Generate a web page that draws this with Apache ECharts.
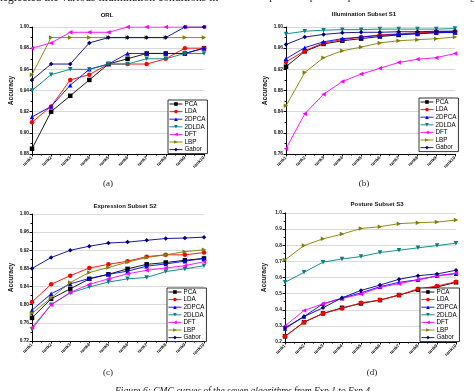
<!DOCTYPE html>
<html><head><meta charset="utf-8">
<script src="https://cdn.jsdelivr.net/npm/echarts@6/dist/echarts.min.js"></script>
<style>html,body{margin:0;padding:0;background:#fff}#c{width:474px;height:391px}</style>
</head><body><div id="c"></div>
<script>
const ranks = [1,2,3,4,5,6,7,8,9,10];
const methods = ['PCA','LDA','2DPCA','2DLDA','DFT','LBP','Gabor'];

// (a) ORL
const orlPCA   = [0.885,0.92,0.935,0.95,0.965,0.97,0.975,0.975,0.975,0.98];
const orlLDA   = [0.91,0.925,0.95,0.955,0.965,0.965,0.965,0.97,0.98,0.98];
const orl2DPCA = [0.915,0.925,0.945,0.96,0.965,0.975,0.975,0.975,0.975,0.98];
const orl2DLDA = [0.94,0.955,0.96,0.96,0.965,0.965,0.97,0.97,0.975,0.975];
const orlDFT   = [0.98,0.985,0.995,0.995,0.995,1.0,1.0,1.0,1.0,1.0];
const orlLBP   = [0.955,0.99,0.99,0.99,0.99,0.99,0.99,0.99,0.99,0.99];
const orlGabor = [0.95,0.965,0.965,0.985,0.99,0.99,0.99,0.99,1.0,1.0];

// (b) Illumination Subset S1
const s1PCA   = [0.925,0.954,0.968,0.974,0.978,0.982,0.985,0.988,0.99,0.99];
const s1LDA   = [0.934,0.955,0.97,0.976,0.981,0.985,0.987,0.989,0.991,0.992];
const s12DPCA = [0.94,0.961,0.972,0.978,0.981,0.984,0.986,0.987,0.989,0.99];
const s12DLDA = [0.987,0.992,0.994,0.995,0.995,0.996,0.996,0.996,0.996,0.997];
const s1DFT   = [0.77,0.836,0.873,0.897,0.911,0.922,0.933,0.939,0.942,0.95];
const s1LBP   = [0.851,0.914,0.942,0.955,0.962,0.97,0.974,0.976,0.978,0.981];
const s1Gabor = [0.967,0.981,0.986,0.989,0.99,0.99,0.991,0.991,0.992,0.992];

// (c) Expression Subset S2
const s2PCA   = [0.771,0.813,0.835,0.857,0.867,0.879,0.889,0.893,0.898,0.902];
const s2LDA   = [0.806,0.845,0.864,0.881,0.889,0.896,0.906,0.91,0.91,0.915];
const s22DPCA = [0.788,0.824,0.846,0.858,0.867,0.874,0.885,0.89,0.896,0.902];
const s22DLDA = [0.746,0.8,0.826,0.839,0.85,0.857,0.86,0.873,0.879,0.886];
const s2DFT   = [0.75,0.8,0.827,0.845,0.857,0.868,0.876,0.881,0.886,0.895];
const s2LBP   = [0.781,0.815,0.849,0.871,0.882,0.894,0.904,0.91,0.917,0.921];
const s2Gabor = [0.88,0.904,0.92,0.929,0.936,0.938,0.942,0.946,0.947,0.949];

// (d) Posture Subset S3
const s3PCA   = [0.235,0.323,0.377,0.412,0.439,0.46,0.491,0.524,0.541,0.57];
const s3LDA   = [0.235,0.323,0.377,0.408,0.443,0.46,0.491,0.53,0.547,0.574];
const s32DPCA = [0.283,0.358,0.437,0.472,0.505,0.543,0.57,0.586,0.611,0.624];
const s32DLDA = [0.57,0.632,0.695,0.715,0.73,0.755,0.769,0.784,0.798,0.813];
const s3DFT   = [0.3,0.395,0.437,0.47,0.497,0.539,0.562,0.586,0.609,0.628];
const s3LBP   = [0.709,0.798,0.84,0.869,0.904,0.915,0.934,0.94,0.944,0.956];
const s3Gabor = [0.287,0.358,0.412,0.474,0.52,0.553,0.589,0.611,0.622,0.645];

const panels = [
  [orlPCA,orlLDA,orl2DPCA,orl2DLDA,orlDFT,orlLBP,orlGabor],
  [s1PCA,s1LDA,s12DPCA,s12DLDA,s1DFT,s1LBP,s1Gabor],
  [s2PCA,s2LDA,s22DPCA,s22DLDA,s2DFT,s2LBP,s2Gabor],
  [s3PCA,s3LDA,s32DPCA,s32DLDA,s3DFT,s3LBP,s3Gabor]
];
const yMin = [0.88,0.76,0.72,0.2];
const yMax = [1.0,1.0,1.0,1.0];
const yStep = [0.02,0.04,0.04,0.1];
const yDec = [2,2,2,1];

const colors = ['#000000','#ff0000','#0000ff','#008080','#ff00ff','#808000','#000080'];
const symbols = ['rect','circle','triangle','path://M0,0 L10,0 L5,10 Z','path://M0,5 L10,0 L10,10 Z','path://M10,5 L0,0 L0,10 Z','diamond'];

const grids = [
  {left:32, top:27, width:172, height:127},
  {left:286, top:27, width:169, height:127},
  {left:32, top:214, width:172, height:127},
  {left:285, top:213, width:171, height:129}
];
const legendPos = [
  {left:168, top:100},
  {left:419, top:98},
  {left:167, top:288},
  {left:420, top:288}
];

const xAxes = [], yAxes = [], series = [], legends = [];
for (let p = 0; p < 4; p++) {
  xAxes.push({
    gridIndex:p, type:'value', min:1, max:10, interval:1,
    axisLine:{show:true, onZero:false, lineStyle:{color:'#000', width:1}},
    axisTick:{show:true, length:2.5, lineStyle:{color:'#000'}},
    minorTick:{show:true, splitNumber:2, length:1.5, lineStyle:{color:'#000'}},
    splitLine:{show:false},
    axisLabel:{rotate:45, fontSize:4.5, fontWeight:'bold', color:'#111', margin:3,
      fontFamily:'Liberation Sans', formatter:v=>'rank'+v}
  });
  yAxes.push({
    gridIndex:p, type:'value', min:yMin[p], max:yMax[p], interval:yStep[p],
    name:'Accuracy', nameLocation:'middle', nameGap:17, nameRotate:90,
    nameTextStyle:{fontSize:6.5, fontWeight:'bold', color:'#111', fontFamily:'Liberation Sans'},
    axisLine:{show:true, lineStyle:{color:'#000', width:1}},
    axisTick:{show:true, length:2.5, lineStyle:{color:'#000'}},
    minorTick:{show:true, splitNumber:2, length:1.5, lineStyle:{color:'#000'}},
    splitLine:{show:true, lineStyle:{color:'#d9d9d9', width:1}},
    axisLabel:{fontSize:4.8, fontWeight:'bold', color:'#111', margin:3,
      fontFamily:'Liberation Sans', formatter:v=>v.toFixed(yDec[p])}
  });
  for (let m = 0; m < 7; m++) {
    series.push({
      type:'line', name:methods[m], xAxisIndex:p, yAxisIndex:p,
      data: ranks.map((r,i)=>[r, panels[p][m][i]]),
      symbol:symbols[m], symbolSize:4.5, showAllSymbol:true,
      lineStyle:{color:colors[m], width:0.9},
      itemStyle:{color:colors[m]},
      emphasis:{disabled:true}, animation:false, z:3+m
    });
  }
  legends.push({
    left:legendPos[p].left, top:legendPos[p].top, orient:'vertical',
    data:methods, itemWidth:13, itemHeight:4.5, itemGap:1.6,
    lineStyle:{width:0.9}, itemStyle:{borderWidth:0},
    padding:[1,2,1,1], borderColor:'#000', borderWidth:0.8, backgroundColor:'#fff',
    textStyle:{fontSize:6.3, color:'#000', fontFamily:'Liberation Sans', lineHeight:5.5, padding:[0,0,0,-3]},
    selectedMode:false, z:10
  });
}

const serif = 'Liberation Serif';
const graphic = [
  {type:'text', left:-3, top:-8, style:{text:'neglected the various illumination conditions in', font:'11.6px '+serif, fill:'#222'}},
  {type:'text', left:257, top:-8, style:{text:'Exp.3. Compare the performance of the seven algorithms', font:'11px '+serif, fill:'#222'}},
  {type:'text', x:107, y:15, style:{text:'ORL', font:'bold 6px Liberation Sans', fill:'#111', align:'center', verticalAlign:'middle'}},
  {type:'text', x:364, y:14, style:{text:'Illumination Subset S1', font:'bold 6px Liberation Sans', fill:'#111', align:'center', verticalAlign:'middle'}},
  {type:'text', x:125, y:206, style:{text:'Expression Subset S2', font:'bold 6px Liberation Sans', fill:'#111', align:'center', verticalAlign:'middle'}},
  {type:'text', x:377, y:204, style:{text:'Posture Subset S3', font:'bold 6px Liberation Sans', fill:'#111', align:'center', verticalAlign:'middle'}},
  {type:'text', x:108, y:184, style:{text:'(a)', font:'9px '+serif, fill:'#222', align:'center', verticalAlign:'middle'}},
  {type:'text', x:364, y:184, style:{text:'(b)', font:'9px '+serif, fill:'#222', align:'center', verticalAlign:'middle'}},
  {type:'text', x:108, y:373, style:{text:'(c)', font:'9px '+serif, fill:'#222', align:'center', verticalAlign:'middle'}},
  {type:'text', x:372, y:373, style:{text:'(d)', font:'9px '+serif, fill:'#222', align:'center', verticalAlign:'middle'}},
  {type:'text', x:115, y:391, style:{text:'Figure 6: CMC curves of the seven algorithms from Exp.1 to Exp.4.', font:'italic 9.5px '+serif, fill:'#222', align:'left', verticalAlign:'middle'}}
];

const chart = echarts.init(document.getElementById('c'), null, {renderer:'canvas'});
chart.setOption({
  animation:false,
  backgroundColor:'#fff',
  grid:grids, xAxis:xAxes, yAxis:yAxes, series:series, legend:legends, graphic:graphic
});
</script></body></html>
